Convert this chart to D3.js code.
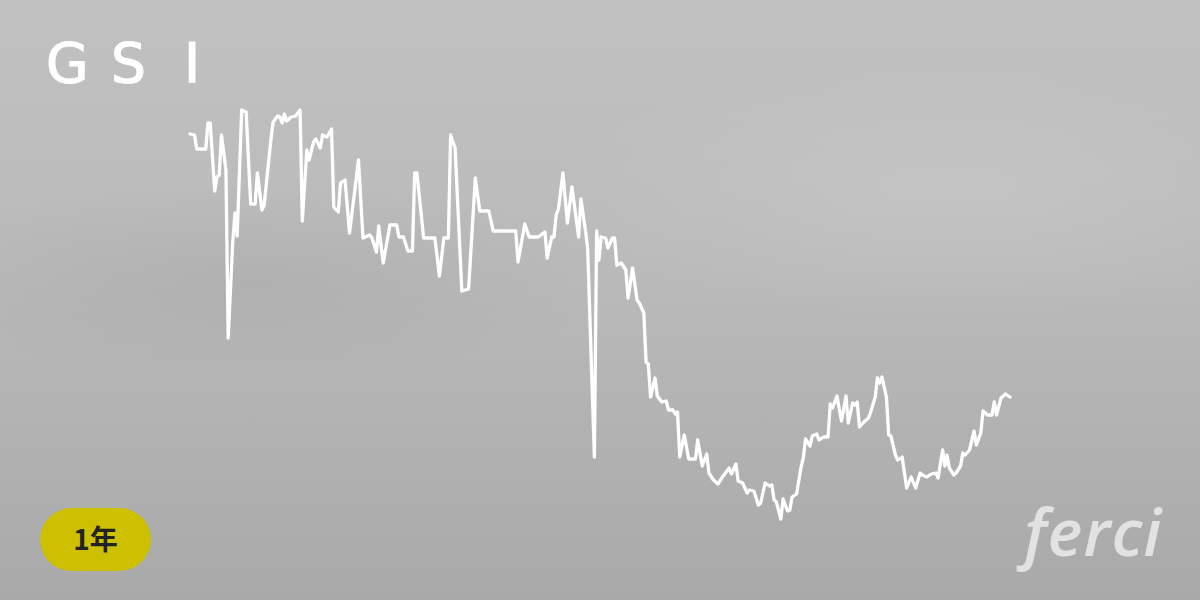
<!DOCTYPE html>
<html><head><meta charset="utf-8">
<script src="https://cdn.jsdelivr.net/npm/d3@7"></script>
<style>html,body{margin:0;padding:0;background:#b8b8b8;}svg{display:block;}</style>
</head><body>
<script>
const titleLetters = ["G", "S", "I"];
const periodLabel = "1年";
const brand = "ferci";
const startDate = new Date(2023, 5, 1);
const dayOffsets = [0,2,3,7,8,9,11,12,13,14,16,17,19,20,21,23,25,27,29,30,32,33,36,37,39,40,41,42,43,45,47,49,50,52,53,55,56,58,59,61,63,64,66,67,69,71,73,75,77,80,81,83,84,86,89,92,93,95,97,99,100,101,104,109,111,113,115,116,118,121,124,127,129,133,135,145,146,149,151,155,158,159,161,162,163,164,166,168,170,173,174,176,177,180,181,182,183,185,186,188,189,190,192,194,195,197,199,200,202,203,204,205,207,208,210,212,213,215,216,217,218,220,222,225,226,228,230,231,233,235,237,240,241,243,244,246,248,249,251,253,254,256,258,259,260,261,263,264,266,267,268,270,272,273,274,276,277,279,280,282,284,285,286,288,289,290,292,293,295,296,297,298,300,302,303,305,306,307,308,310,311,312,314,315,317,319,321,323,325,326,328,330,332,333,335,336,337,338,340,341,343,344,345,347,349,350,352,353,355,357,358,359,361,363,365];
const values = [426,425,411,411,437,437,369,383,385,425,390,222,317,347,324,450,448,356,356,387,350,355,420,438,444,443,437,446,439,443,444,450,339,410,400,418,421,412,425,423,431,353,348,377,380,327,363,400,322,325,322,308,334,297,335,335,323,323,309,309,387,387,322,322,284,322,322,425,412,269,271,382,349,349,329,329,298,336,323,323,328,302,323,323,345,351,387,337,373,323,361,330,312,103,329,300,323,322,312,322,322,295,297,290,262,292,260,257,247,198,196,163,182,164,158,159,150,150,146,148,103,125,101,101,120,94,106,87,80,76,83,92,86,96,79,77,67,70,69,55,57,77,74,75,60,58,41,61,49,50,63,66,93,102,121,114,124,126,120,123,123,156,152,164,151,139,164,137,157,155,158,133,138,142,148,163,182,177,183,163,125,124,105,100,103,72,83,72,87,85,83,86,87,82,110,94,105,92,85,87,94,107,105,110,129,115,127,149,145,145,158,145,162,166,163];

const W = 1200, H = 600;
const svg = d3.select("body").append("svg").attr("width", W).attr("height", H);
const defs = svg.append("defs");
const g1 = defs.append("linearGradient").attr("id","bg").attr("x1","0").attr("y1","0").attr("x2","0").attr("y2","1");
g1.append("stop").attr("offset","0%").attr("stop-color","#c1c1c1");
g1.append("stop").attr("offset","45%").attr("stop-color","#bababa");
g1.append("stop").attr("offset","100%").attr("stop-color","#a9a9a9");
svg.append("rect").attr("width",W).attr("height",H).attr("fill","url(#bg)");
const rg = defs.append("radialGradient").attr("id","glow").attr("cx","0.5").attr("cy","0.5").attr("r","0.5");
rg.append("stop").attr("offset","0%").attr("stop-color","#ffffff").attr("stop-opacity",0.12);
rg.append("stop").attr("offset","100%").attr("stop-color","#ffffff").attr("stop-opacity",0);
svg.append("ellipse").attr("cx",950).attr("cy",190).attr("rx",420).attr("ry",130).attr("fill","url(#glow)");
const rg2 = defs.append("radialGradient").attr("id","shade").attr("cx","0.5").attr("cy","0.5").attr("r","0.5");
rg2.append("stop").attr("offset","0%").attr("stop-color","#000000").attr("stop-opacity",0.05);
rg2.append("stop").attr("offset","100%").attr("stop-color","#000000").attr("stop-opacity",0);
svg.append("ellipse").attr("cx",250).attr("cy",280).attr("rx",380).attr("ry",100).attr("fill","url(#shade)");

const data = dayOffsets.map((d,i)=>({date: d3.timeDay.offset(startDate, d), v: values[i]}));
const x = d3.scaleTime().domain([startDate, d3.timeDay.offset(startDate, 365)]).range([190, 1010]);
const y = d3.scaleLinear().domain([40, 460]).range([520, 100]);
const line = d3.line().x(d=>x(d.date)).y(d=>y(d.v));
svg.append("path").datum(data).attr("d", line).attr("fill","none").attr("stroke","#ffffff").attr("stroke-width",3.3).attr("stroke-linejoin","round").attr("stroke-linecap","round");

const titleX = [46, 111, 184];
const t = svg.append("text").attr("y",82)
  .attr("font-family","'DejaVu Sans', sans-serif").attr("font-size",55).attr("fill","#ffffff")
  .attr("stroke","#ffffff").attr("stroke-width",1.2);
t.selectAll("tspan").data(titleLetters).join("tspan").attr("x",(d,i)=>titleX[i]).text(d=>d);

svg.append("rect").attr("x",40).attr("y",508).attr("width",111).attr("height",63).attr("rx",31.5).attr("fill","#ccc000");
svg.append("text").attr("x",95.5).attr("y",550).attr("text-anchor","middle").text(periodLabel)
  .attr("font-family","'Noto Sans CJK JP', sans-serif").attr("font-weight",700).attr("font-size",28).attr("fill","#222222");

svg.append("text").attr("x",1024).attr("y",556).text(brand)
  .attr("font-family","'Open Sans', sans-serif").attr("font-style","italic").attr("font-weight",600).attr("font-size",66)
  .attr("fill","#e2e2e2").attr("letter-spacing",1);
</script>
</body></html>
